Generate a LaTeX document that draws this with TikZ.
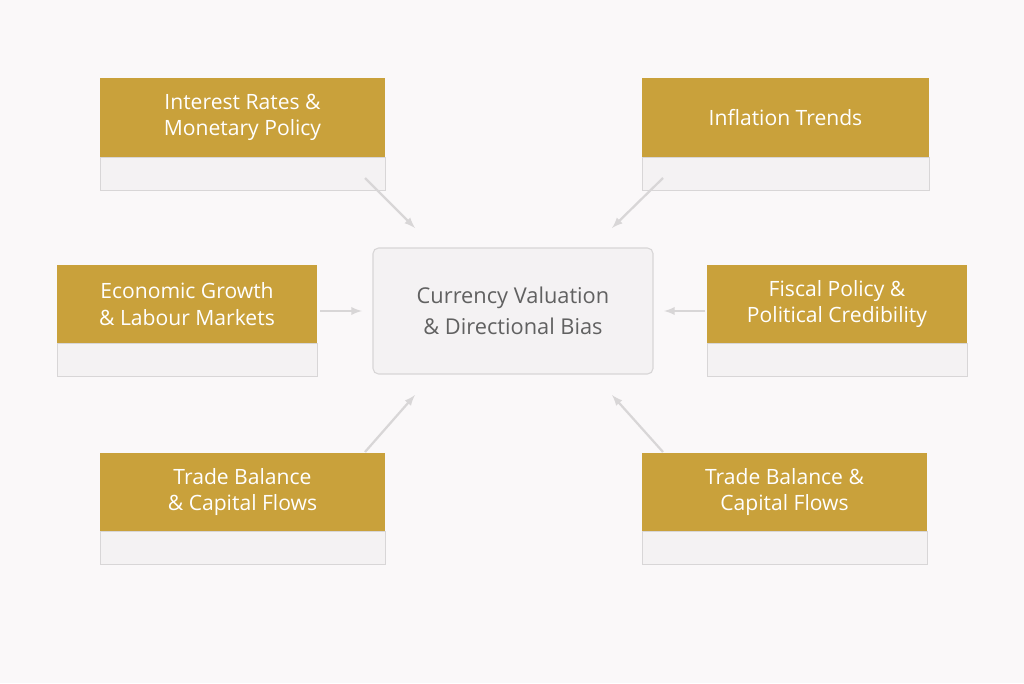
\documentclass[tikz,border=0pt]{standalone}
\usepackage{fontspec}
\setmainfont{Open Sans}
\usetikzlibrary{positioning}
\definecolor{gold}{HTML}{C9A13B}
\definecolor{strip}{HTML}{F4F2F3}
\definecolor{edge}{HTML}{D8D6D7}
\definecolor{bg}{HTML}{FAF8F9}
\begin{document}
\begin{tikzpicture}[x=0.025cm, y=-0.025cm,
  factor/.style={fill=gold, text=white, align=center, font=\fontsize{15}{19}\selectfont, inner sep=0pt, minimum height=1.95cm},
  tray/.style={fill=strip, draw=edge, line width=0.6pt, inner sep=0pt, minimum height=0.82cm},
  link/.style={draw=edge, line width=1.6pt, -latex}]
  \fill[bg] (0,0) rectangle (1024,683);
  \useasboundingbox (0,0) rectangle (1024,683);

  % Centre
  \node[draw=edge, fill=strip, rounded corners=4pt, line width=0.8pt, minimum width=7cm, minimum height=3.15cm,
        align=center, text=black!62, font=\fontsize{15.5}{22}\selectfont] (cv) at (513,311) {Currency Valuation\\\& Directional Bias};

  % Factors
  \node[factor, minimum width=7.125cm] (ir) at (242.5,117.5) {Interest Rates \&\\Monetary Policy};
  \node[tray, minimum width=7.125cm, below=0pt of ir] (irt) {};
  \node[factor, minimum width=7.175cm] (in) at (785.5,117.5) {Inflation Trends};
  \node[tray, minimum width=7.175cm, below=0pt of in] (int) {};
  \node[factor, minimum width=6.5cm] (eg) at (187,304) {Economic Growth\\\& Labour Markets};
  \node[tray, minimum width=6.5cm, below=0pt of eg] (egt) {};
  \node[factor, minimum width=6.5cm] (fp) at (837,304) {Fiscal Policy \&\\Political Credibility};
  \node[tray, minimum width=6.5cm, below=0pt of fp] (fpt) {};
  \node[factor, minimum width=7.125cm] (tl) at (242.5,492) {Trade Balance\\\& Capital Flows};
  \node[tray, minimum width=7.125cm, below=0pt of tl] (tlt) {};
  \node[factor, minimum width=7.125cm] (tr) at (784.5,492) {Trade Balance \&\\Capital Flows};
  \node[tray, minimum width=7.125cm, below=0pt of tr] (trt) {};

  % Arrows
  \coordinate (a1) at (365,178); \coordinate (b1) at (415,228);
  \coordinate (a2) at (663,178); \coordinate (b2) at (612,228);
  \coordinate (a3) at (320,311); \coordinate (b3) at (362,311);
  \coordinate (a4) at (705,311); \coordinate (b4) at (664,311);
  \coordinate (a5) at (365,452); \coordinate (b5) at (415,395);
  \coordinate (a6) at (663,452); \coordinate (b6) at (612,395);
  \foreach \i in {1,...,6} \draw[link] (a\i) -- (b\i);
\end{tikzpicture}
\end{document}
